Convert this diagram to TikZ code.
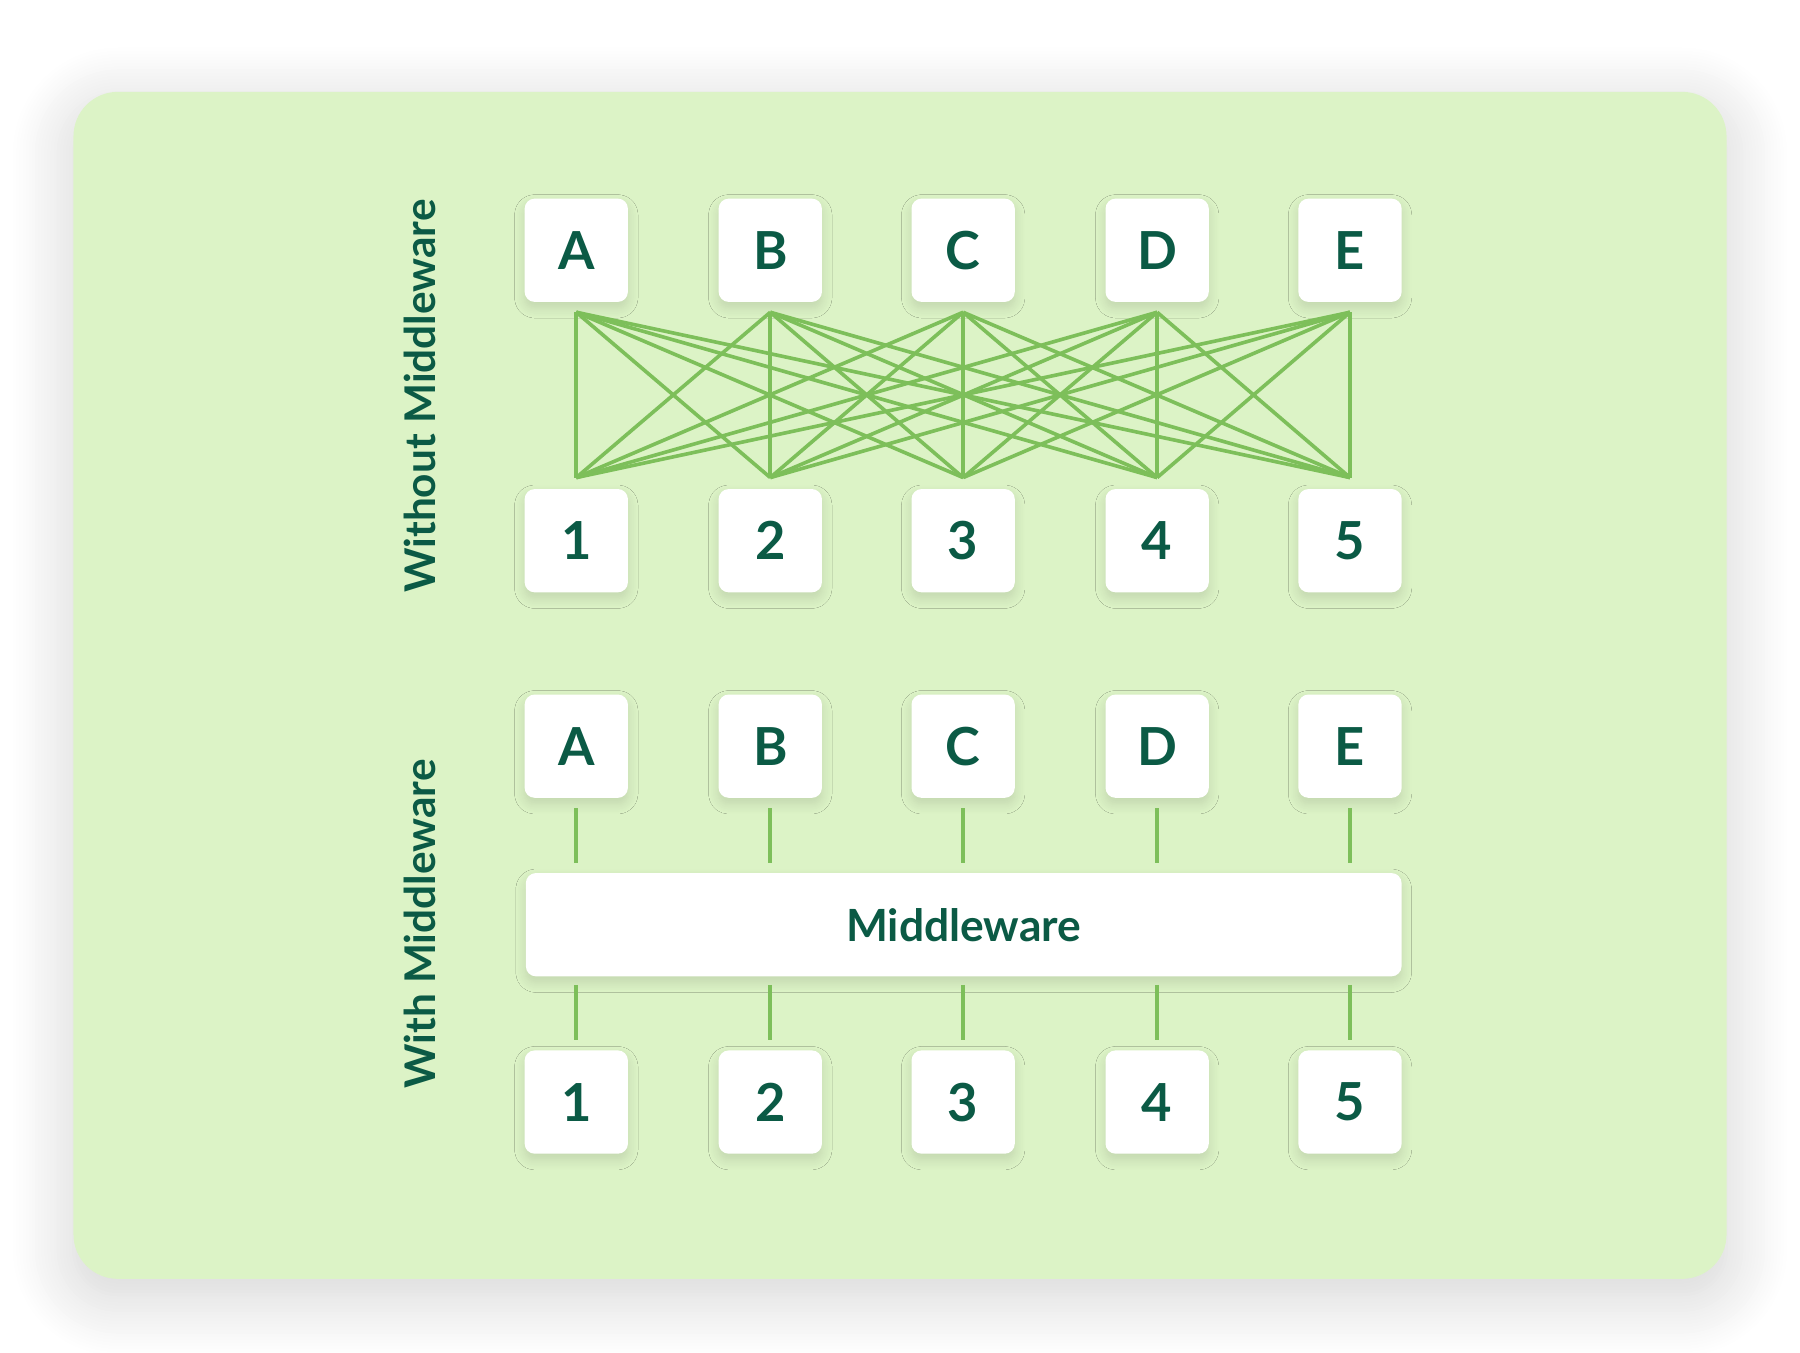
\documentclass[tikz,border=0pt]{standalone}
\usepackage{fontspec}
\setmainfont{Lato}
\usetikzlibrary{shadows.blur}
\definecolor{bg}{HTML}{DCF3C6}
\definecolor{ink}{HTML}{0B5A45}
\definecolor{ln}{HTML}{7DBF5A}
\tikzset{
 card/.style={fill=white,rounded corners=5pt,minimum width=1.8cm,minimum height=1.8cm,inner sep=0pt,font=\fontsize{26}{30}\selectfont\bfseries,text=ink,blur shadow={shadow blur steps=10,shadow blur radius=5pt,shadow blur extra rounding=5pt,shadow xshift=0pt,shadow yshift=-3pt,shadow opacity=12}},
 link/.style={draw=ln,line width=1.8pt},
 side/.style={rotate=90,font=\fontsize{21}{25}\selectfont\bfseries,text=ink}
}
\begin{document}
\begin{tikzpicture}[x=0.02cm,y=-0.02cm]
\useasboundingbox (0,0) rectangle (1568,1178);
\fill[bg,rounded corners=22pt,blur shadow={shadow blur steps=20,shadow blur radius=30pt,shadow blur extra rounding=22pt,shadow xshift=0pt,shadow yshift=-8pt,shadow opacity=18}] (64,80) rectangle (1504,1114);
\foreach \l/\x in {A/502,B/671,C/839,D/1008,E/1176}{
 \node[card] (t\l) at (\x,218) {\l};
 \node[card] (b\l) at (\x,650) {\l};
 \coordinate (ut\l) at (\x,272);
}
\foreach \n/\x in {1/502,2/671,3/839,4/1008,5/1176}{
 \node[card] (tn\n) at (\x,471) {\n};
 \node[card] (bn\n) at (\x,960) {\n};
 \coordinate (ub\n) at (\x,416);
}
\foreach \l in {A,B,C,D,E}{\foreach \n in {1,2,3,4,5}{\draw[link] (ut\l) -- (ub\n);}}
\node[card,minimum width=15.26cm] (mw) at (839.5,805.5) {\fontsize{22}{26}\selectfont Middleware};
\foreach \l/\n/\x in {A/1/502,B/2/671,C/3/839,D/4/1008,E/5/1176}{
 \coordinate (p1\l) at (\x,704); \coordinate (p2\l) at (\x,752);
 \coordinate (q1\l) at (\x,858); \coordinate (q2\l) at (\x,906);
 \draw[link] (p1\l) -- (p2\l);
 \draw[link] (q1\l) -- (q2\l);
}
\node[side] (lw) at (366,345) {Without Middleware};
\node[side] (lm) at (366,805) {With Middleware};
\end{tikzpicture}
\end{document}
